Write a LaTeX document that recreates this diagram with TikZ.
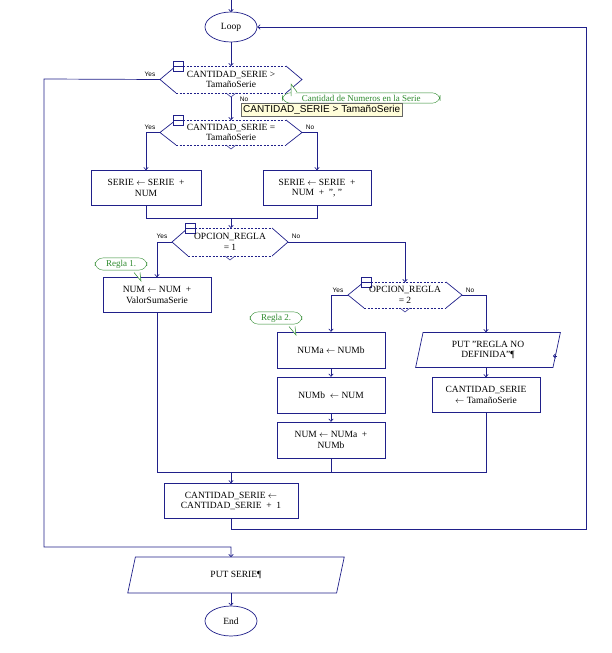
\documentclass[tikz,border=0pt]{standalone}
\usepackage{fontspec}
\setmainfont{Liberation Serif}
\newfontfamily\sansf{Liberation Sans}
\usetikzlibrary{arrows.meta,shapes.geometric}
\definecolor{ln}{HTML}{20208A}
\definecolor{gr}{HTML}{2E8B2E}
\begin{document}
\begin{tikzpicture}[x=1pt,y=-1pt,
  every node/.style={font=\fontsize{9.5}{10.5}\selectfont,align=center,inner sep=1pt},
  ln/.style={draw=ln,line width=0.7pt},
  ar/.style={ln,-{To[length=3pt,width=5pt]}},
  box/.style={ln,fill=white,rectangle,minimum height=35pt},
  term/.style={ln,ellipse,minimum width=52pt,minimum height=30pt},
  io/.style={ln,trapezium,trapezium left angle=78,trapezium right angle=102,minimum height=35pt},
  yn/.style={font=\sansf\fontsize{6.5}{7}\selectfont},
  cmt/.style={draw=gr,text=gr,rounded corners=8pt,font=\fontsize{9}{10}\selectfont,inner sep=2pt}]
\newcommand\hexa[6]{% name, xl, xr, yt, yb, text
  \pgfmathsetmacro\ym{(#4+#5)/2}
  \draw[ln] (#2+16,#4) -- (#2,\ym) -- (#2+16,#5);
  \draw[ln] (#3-16,#4) -- (#3,\ym) -- (#3-16,#5);
  \draw[ln,dash pattern=on 2pt off 1.5pt,line width=0.5pt] (#2+16,#4) -- (#3-16,#4) (#2+16,#5) -- (#3-16,#5);
  \draw[ln,line width=0.5pt] ({(#2+#3)/2-5},#5) -- ({(#2+#3)/2},#5+4) -- ({(#2+#3)/2+5},#5);
  \draw[ln,line width=0.5pt,fill=white] (#2+13,#4-5) rectangle (#2+23,#4+5) (#2+13,#4) -- (#2+23,#4);
  \node (#1) at ({(#2+#3)/2},\ym) {#6};
  \coordinate (#1l) at (#2,\ym); \coordinate (#1r) at (#3,\ym);
}
\useasboundingbox (0,0) rectangle (611,653);
\fill[white] (0,0) rectangle (611,653);
\draw[ar] (231,0) -- (231,12);
\node[term] (loop) at (231,27) {Loop};
\hexa{d1}{160}{302}{66}{93}{CANTIDAD\_SERIE >\\TamañoSerie}
\draw[ar] (loop) -- (231,66);
\node[yn] at (150,74) {Yes};
\node[yn] at (244,99) {No};
\draw[ar] (231,97) -- (231,120);
\hexa{d2}{160}{302}{120}{145}{CANTIDAD\_SERIE =\\TamañoSerie}
\node[yn] at (150,127) {Yes};
\node[yn] at (310,127) {No};
\node[box,minimum width=110pt] (b1) at (146,188) {SERIE $\leftarrow$ SERIE\ \ +\\NUM};
\node[box,minimum width=108pt] (b2) at (317,188) {SERIE $\leftarrow$ SERIE\ \ +\\NUM\ \ +\ \ ", "};
\draw[ar] (d2l) -| (b1.north);
\draw[ar] (d2r) -| (b2.north);
\draw[ln] (b1.south) -- (146,218) -- (317,218) -- (b2.south);
\draw[ar] (231,218) -- (231,228);
\hexa{d3}{172}{288}{228}{256}{OPCION\_REGLA\\= 1}
\node[yn] at (162,236) {Yes};
\node[yn] at (296,236) {No};
\node[box,minimum width=108pt] (b3) at (157,295) {NUM $\leftarrow$ NUM\ \ +\\ValorSumaSerie};
\draw[ar] (d3l) -| (b3.north);
\hexa{d4}{348}{462}{282}{308}{OPCION\_REGLA\\= 2}
\draw[ar] (d3r) -| (405,282);
\node[yn] at (338,290) {Yes};
\node[yn] at (470,290) {No};
\node[box,minimum width=108pt,minimum height=36pt] (b4) at (331,350) {NUMa $\leftarrow$ NUMb};
\node[box,minimum width=108pt,minimum height=36pt] (b5) at (331,395) {NUMb\ \ $\leftarrow$ NUM};
\node[box,minimum width=108pt,minimum height=36pt] (b6) at (331,440) {NUM $\leftarrow$ NUMa\ \ +\\NUMb};
\draw[ar] (d4l) -| (b4.north);
\draw[ar] (b4) -- (b5);
\draw[ar] (b5) -- (b6);
\node[io,minimum width=100pt] (p1) at (488,350) {PUT "REGLA NO\\DEFINIDA"¶};
\coordinate (p1o) at (553,356);
\draw[ar] (p1.east |- p1o) -- (p1o);
\node[box,minimum width=108pt,minimum height=35pt] (b7) at (486,395) {CANTIDAD\_SERIE\\$\leftarrow$ TamañoSerie};
\draw[ar] (d4r) -| (p1.north -| b7);
\draw[ar] (p1.south -| b7) -- (b7);
\draw[ln] (b3.south) -- (157,472) -- (486,472) -- (b7.south);
\draw[ln] (b6.south) -- (331,472);
\node[box,minimum width=134pt] (b8) at (231,501) {CANTIDAD\_SERIE $\leftarrow$\\CANTIDAD\_SERIE\ \ +\ \ 1};
\draw[ar] (231,472) -- (b8.north);
\draw[ar] (b8.south) -- (231,529) -- (586,529) -- (586,27) -- (loop.east);
\node[io,minimum width=88pt,minimum height=36pt] (put) at (236,575) {PUT SERIE¶};
\draw[ar] (d1l) -- (44,79) -- (44,547) -- (231,547) -- (231,557);
\node[term] (end) at (231,621) {End};
\draw[ar] (231,593) -- (end);
% comments
\node[cmt,minimum width=158pt,anchor=west] (c1) at (282,98) {Cantidad de Numeros en la Serie};
\draw[gr,fill=white,line width=0.5pt] (297,92) -- (291,84) -- (291,96);
\node[draw=black!60,fill=yellow!15,anchor=west,font=\sansf\fontsize{10}{11}\selectfont,inner sep=2pt] (tt) at (241,110) {CANTIDAD\_SERIE > TamañoSerie};
\node[cmt,minimum width=52pt] (r1) at (121,264) {Regla 1.};
\draw[gr,fill=white,line width=0.5pt] (134,272.5) -- (141,281) -- (140,272.5);
\node[cmt,minimum width=52pt] (r2) at (276,318) {Regla 2.};
\draw[gr,fill=white,line width=0.5pt] (289,326.5) -- (296,335) -- (295,326.5);
\end{tikzpicture}
\end{document}
